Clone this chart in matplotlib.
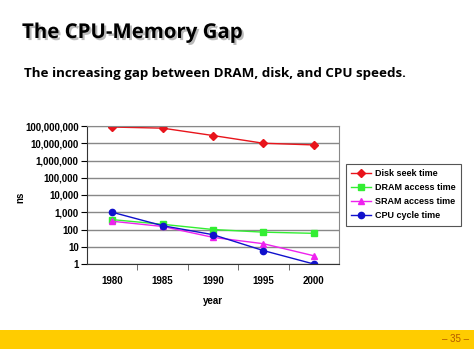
import matplotlib
matplotlib.use('Agg')
import matplotlib.pyplot as plt
import matplotlib.patheffects as pe
from matplotlib.patches import Rectangle
from matplotlib.ticker import FixedLocator, NullLocator

years = ['1980', '1985', '1990', '1995', '2000']
disk_seek = [87000000, 75000000, 28000000, 10000000, 8000000]
dram_access = [375, 200, 100, 70, 60]
sram_access = [300, 150, 35, 15, 3]
cpu_cycle = [1000, 166, 50, 6, 1]
y_ticks = [1, 10, 100, 1000, 10000, 100000, 1000000, 10000000, 100000000]

fig = plt.figure(figsize=(4.74, 3.55), dpi=100)
fig.patch.set_facecolor('white')

# slide title with a soft shadow
shadow = [pe.withSimplePatchShadow(offset=(1.5, -1.5), shadow_rgbFace='#777777', alpha=0.5)]
fig.text(22/474, 1 - 33/355, 'The CPU-Memory Gap', fontsize=14.7, fontweight='bold',
         family='Open Sans', va='center', ha='left', path_effects=shadow)
fig.text(24/474, 1 - 74/355, 'The increasing gap between DRAM, disk, and CPU speeds.',
         fontsize=9.6, fontweight='bold', family='Open Sans', va='center', ha='left')

# footer bar
fig.patches.append(Rectangle((0, 6/355), 1, 19/355, transform=fig.transFigure,
                             facecolor='#FFCC00', edgecolor='none'))
fig.text(469/474, 1 - 339/355, '\u2013 35 \u2013', fontsize=7, color='#B35900',
         family='Liberation Sans', ha='right', va='center')

ax = fig.add_axes([87/474, 1 - 264/355, 252/474, 138/355])
x = list(range(len(years)))
ax.plot(x, disk_seek, color='#E8141B', marker='D', markersize=4, lw=1, label='Disk seek time')
ax.plot(x, dram_access, color='#33EE33', marker='s', markersize=4.5, lw=1, label='DRAM access time')
ax.plot(x, sram_access, color='#EE22EE', marker='^', markersize=5, lw=1, label='SRAM access time')
ax.plot(x, cpu_cycle, color='#1010CC', marker='o', markersize=4.5, lw=1, label='CPU cycle time')

ax.set_yscale('log')
ax.set_ylim(1, 100000000)
ax.yaxis.set_major_locator(FixedLocator(y_ticks))
ax.yaxis.set_minor_locator(NullLocator())
ax.set_yticklabels(['{:,}'.format(v) for v in y_ticks])
ax.set_xlim(-0.5, len(years) - 0.5)
ax.set_xticks(x)
ax.set_xticklabels(years)
ax.set_xticks([i + 0.5 for i in range(len(years) - 1)], minor=True)
ax.tick_params(axis='x', which='major', length=0, pad=9)
ax.tick_params(axis='x', which='minor', length=4, direction='out', color='#555555')
ax.tick_params(axis='y', length=4, direction='out', pad=2)
for lab in ax.get_xticklabels() + ax.get_yticklabels():
    lab.set_fontweight('bold')
    lab.set_fontsize(7)
    lab.set_family('Liberation Sans')

ax.grid(axis='y', color='#888888', lw=1)
ax.set_axisbelow(True)
for side in ['top', 'right']:
    ax.spines[side].set_color('#888888')
ax.spines['left'].set_color('#333333')
ax.spines['bottom'].set_color('#333333')

fig.text(20/474, 1 - 197/355, 'ns', rotation=90, fontsize=7, fontweight='bold',
         family='Liberation Sans', ha='center', va='center')
fig.text(213/474, 1 - 301/355, 'year', fontsize=7, fontweight='bold',
         family='Liberation Sans', ha='center', va='center')

leg = fig.legend(loc='upper left', bbox_to_anchor=(346/474, 1 - 164/355),
                 prop={'family': 'Liberation Sans', 'weight': 'bold', 'size': 6.5},
                 frameon=True, fancybox=False, framealpha=1, handlelength=2.2,
                 handletextpad=0.4, borderpad=0.6, labelspacing=0.55, borderaxespad=0)
leg.get_frame().set_edgecolor('#555555')
leg.get_frame().set_linewidth(0.8)

plt.savefig('out.png', dpi=100)
plt.close()
